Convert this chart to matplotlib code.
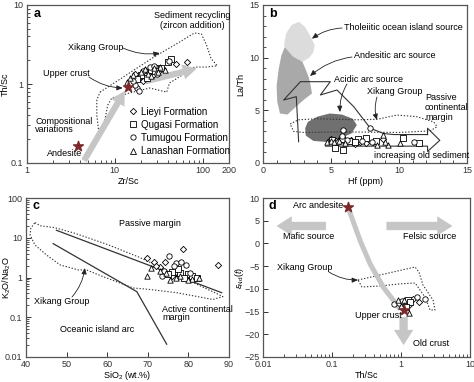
import matplotlib
matplotlib.use('Agg')
import matplotlib.pyplot as plt
from matplotlib.patches import FancyArrowPatch
from matplotlib.ticker import MultipleLocator, NullFormatter

plt.rcParams['font.family'] = ['Liberation Sans', 'DejaVu Sans']
plt.rcParams['mathtext.fontset'] = 'custom'
plt.rcParams['mathtext.rm'] = 'Liberation Sans'
plt.rcParams['mathtext.it'] = 'Liberation Sans:italic'

# ---------------- data ----------------
formations = ['Lieyi Formation', 'Qugasi Formation', 'Tumugou Formation', 'Lanashan Formation']
markers = ['D', 's', 'o', '^']
msizes = [10, 13, 15, 15]

# panel a: Zr/Sc vs Th/Sc
a_lieyi_x = [50, 67, 24, 30, 19, 22, 35, 27, 17, 21, 32]
a_lieyi_y = [1.79, 1.9, 1.4, 1.6, 1.2, 1.5, 1.55, 1.3, 1.35, 1.1, 1.45]
a_qugasi_x = [44, 40, 26, 20, 23, 29, 18, 34]
a_qugasi_y = [2.1, 1.9, 1.5, 1.3, 1.2, 1.45, 1.15, 1.6]
a_tumugou_x = [42, 18, 19, 17, 25, 30, 21, 28, 16]
a_tumugou_y = [1.95, 0.9, 0.82, 0.98, 1.65, 1.35, 1.45, 1.7, 1.1]
a_lanashan_x = [13.6, 15, 28, 37, 33, 24, 20, 26, 31, 22, 16]
a_lanashan_y = [1.06, 1.2, 1.6, 1.5, 1.65, 1.35, 1.4, 1.25, 1.4, 1.55, 1.3]
a_env_x = [6.8, 14, 28, 50, 81, 97, 111, 125, 147, 111, 81, 59, 42, 39, 25, 14.8, 9.25, 8.3, 7.7, 7.3, 6.6, 6.24, 6.24, 6.8]
a_env_y = [0.79, 1.33, 2.2, 3.2, 4.43, 4.3, 3.1, 2.1, 1.7, 1.64, 1.64, 1.3, 1.03, 0.79, 0.89, 0.77, 0.665, 0.54, 0.35, 0.24, 0.24, 0.4, 0.63, 0.79]
a_upper_crust = (14, 0.92)
a_andesite = (3.8, 0.164)
a_trend1 = [(4.3, 0.1), (13.5, 0.88)]
a_trend2 = [(20.8, 1.06), (92, 1.6)]

# panel b: Hf vs La/Th
b_lieyi_x = [5.0, 5.4, 6.0, 6.5, 7.1, 7.6, 8.1, 6.8, 5.7, 8.8]
b_lieyi_y = [2.3, 2.1, 2.0, 2.2, 2.0, 1.9, 2.0, 1.8, 2.4, 2.3]
b_qugasi_x = [5.3, 5.9, 7.6, 10.3, 11.5, 5.1, 6.3, 7.0, 8.3, 5.8, 6.8]
b_qugasi_y = [1.4, 1.2, 2.4, 2.35, 1.9, 2.2, 2.1, 2.3, 2.1, 2.3, 2.0]
b_tumugou_x = [5.9, 7.9, 11.1, 5.8, 6.2, 7.3, 8.0, 5.5]
b_tumugou_y = [3.1, 3.3, 2.0, 2.6, 2.2, 2.1, 2.0, 2.0]
b_lanashan_x = [4.7, 5.0, 5.2, 6.0, 8.4, 8.8, 9.2, 10.1, 9.0, 5.6]
b_lanashan_y = [2.0, 2.1, 2.0, 1.9, 1.7, 2.7, 1.7, 1.9, 2.0, 2.1]
b_thol_x = [2.65, 3.1, 3.5, 3.8, 3.7, 3.4, 2.9, 2.3, 1.8, 1.55, 1.7, 2.1]
b_thol_y = [13.4, 12.9, 12.0, 11.2, 10.5, 10.0, 9.6, 9.7, 10.3, 11.2, 12.3, 13.1]
b_andes_x = [1.6, 2.2, 2.9, 3.1, 3.35, 3.5, 3.6, 3.0, 2.3, 1.8, 1.25, 1.05, 1.0, 1.15, 1.35]
b_andes_y = [11.0, 10.1, 9.6, 9.0, 8.2, 7.4, 6.6, 6.0, 5.2, 4.6, 4.7, 5.8, 7.3, 8.9, 10.2]
b_acid_x = [3.3, 4.0, 4.9, 5.8, 6.6, 6.9, 6.5, 5.6, 4.6, 3.7, 3.15, 3.1]
b_acid_y = [3.9, 4.4, 4.7, 4.6, 4.2, 3.6, 2.8, 2.3, 2.0, 2.1, 2.6, 3.3]
b_env_x = [2.0, 2.6, 4.0, 6.9, 8.4, 9.85, 11.3, 12.55, 12.8, 12.3, 10.0, 6.0, 3.0, 2.25, 2.0]
b_env_y = [3.7, 4.1, 4.2, 4.1, 4.15, 4.55, 4.4, 3.9, 3.45, 3.05, 2.9, 2.95, 2.9, 3.0, 3.7]
b_trend_x = [2.62, 2.45, 1.52, 2.75, 4.95, 4.22, 5.44, 6.67, 7.89, 8.87, 9.6, 10.2, 12.1]
b_trend_y = [2.02, 6.3, 5.98, 7.72, 7.72, 6.46, 6.93, 5.35, 3.3, 2.8, 2.7, 2.7, 2.7]
b_arrow_x = [12.1, 12.1, 13.0, 12.1, 12.1, 4.6]
b_arrow_y = [2.7, 3.3, 2.15, 1.1, 1.6, 1.6]

# panel c: SiO2 vs K2O/Na2O
c_lieyi_x = [69.7, 78.6, 71.5, 74.3, 87.4, 73, 77, 80, 76, 81.5, 72]
c_lieyi_y = [3.1, 5.3, 2.4, 2.5, 2.1, 1.8, 1.4, 1.0, 1.1, 0.95, 2.0]
c_qugasi_x = [76, 78, 80, 81, 82, 79, 77.5, 75]
c_qugasi_y = [1.4, 1.3, 1.2, 1.1, 1.0, 0.95, 1.6, 1.2]
c_tumugou_x = [75.1, 77, 78.2, 79.4, 76.5, 74, 80.5, 73.5]
c_tumugou_y = [3.4, 2.3, 2.5, 2.1, 1.9, 1.5, 1.3, 1.1]
c_lanashan_x = [69.7, 70.8, 73, 75.5, 78, 81, 82.5, 80, 74.5, 77]
c_lanashan_y = [1.1, 1.7, 1.5, 0.85, 1.1, 0.9, 1.0, 0.85, 1.3, 0.95]
c_pm_x = [47.5, 88.2]
c_pm_y = [15.4, 0.415]
c_arc_x = [46.7, 67.3, 74.65]
c_arc_y = [7.1, 0.44, 0.021]
c_env_x = [42.2, 43.5, 47, 52, 60, 68, 75, 82, 86, 88.5, 86, 77.1, 70.5, 66.4, 59, 54.9, 52.9, 48.4, 45.1, 42.2, 41.0, 41.2, 42.2]
c_env_y = [24, 20, 18, 13, 6.8, 3.2, 1.45, 0.68, 0.44, 0.33, 0.28, 0.415, 0.5, 0.545, 1.05, 1.55, 1.55, 2.07, 3.65, 6.6, 11.7, 17.5, 24]

# panel d: Th/Sc vs eNd(t)
d_lieyi_x = [1.5, 1.3, 1.8]
d_lieyi_y = [-12.3, -13.5, -12.8]
d_qugasi_x = [1.25, 1.35, 1.2]
d_qugasi_y = [-12.4, -13.0, -14.0]
d_tumugou_x = [0.78, 2.2, 1.7, 0.95, 1.05]
d_tumugou_y = [-13.4, -12.2, -11.9, -13.2, -12.6]
d_lanashan_x = [0.9, 1.1, 1.3, 1.0]
d_lanashan_y = [-12.5, -12.4, -15.3, -13.8]
d_env_x = [0.238, 1.6, 1.82, 2.08, 2.91, 3.11, 2.63, 2.23, 1.6, 0.968, 0.496, 0.272, 0.238]
d_env_y = [-8.05, -5.19, -6.29, -9.15, -12.45, -14.65, -14.65, -11.8, -8.71, -8.9, -9.37, -9.59, -8.05]
d_mix_x = [0.175, 0.206, 0.257, 0.359, 0.561, 0.977]
d_mix_y = [7.5, 4.56, 0.53, -4.6, -9.74, -14.5]
d_arc_andesite = (0.169, 8.0)
d_upper_crust = (1.09, -14.7)
d_mafic = [(0.0896, 3.84), (0.0143, 3.84)]
d_felsic = [(0.561, 3.84), (6.12, 3.84)]
d_old = [(1.09, -15.6), (1.09, -23.0)]

# ---------------- layout (pixel boxes: left, top, right, bottom) ----------------
W, H = 474, 382
boxes = {'a': (27, 5, 229, 163), 'b': (263, 5, 467, 163),
         'c': (26, 198, 229, 357), 'd': (263, 198, 470, 357)}

fig = plt.figure(figsize=(W / 100, H / 100), dpi=100)
axes = {}
for k, (l, t, r, b) in boxes.items():
    axes[k] = fig.add_axes([l / W, 1 - b / H, (r - l) / W, (b - t) / H])


def frac(k, px, py):
    l, t, r, b = boxes[k]
    return ((px - l) / (r - l), (b - py) / (b - t))


def label(k, px, py, s, ha='center', **kw):
    axes[k].text(*frac(k, px, py), s, transform=axes[k].transAxes, ha=ha, va='center',
                 fontsize=kw.pop('fontsize', 6.5), **kw)


def leader(k, start_px, tip):
    axes[k].annotate('', xy=tip, xycoords='data', xytext=frac(k, *start_px),
                     textcoords='axes fraction',
                     arrowprops=dict(arrowstyle='-|>,head_length=0.35,head_width=0.15',
                                     lw=0.6, color='#222222', shrinkA=0, shrinkB=0,
                                     connectionstyle='arc3,rad=0.15'))


def axis_labels(k, xl, yl, xpy, ypx):
    ax = axes[k]
    ax.set_xlabel(xl, fontsize=6.5)
    ax.set_ylabel(yl, fontsize=6.5)
    ax.xaxis.set_label_coords(0.5, frac(k, 0, xpy)[1])
    ax.yaxis.set_label_coords(frac(k, ypx, 0)[0], 0.5)
    ax.xaxis.label.set_va('center')
    ax.yaxis.label.set_va('center')


def style(ax):
    for s in ax.spines.values():
        s.set_color('#555555')
        s.set_linewidth(0.9)
    ax.tick_params(which='both', direction='in', labelsize=6.5, colors='#333333',
                   top=False, right=False, pad=2.5)
    ax.tick_params(which='major', length=3.5, width=0.7)
    ax.tick_params(which='minor', length=2, width=0.6)


def points(ax, groups):
    for (xs, ys), m, s in zip(groups, markers, msizes):
        ax.scatter(xs, ys, marker=m, s=s, facecolors='white', edgecolors='k',
                   linewidths=0.6, zorder=5)


def gray_arrow(ax, p0, p1, tail=0.45, head=1.1, hl=1.0):
    ax.add_patch(FancyArrowPatch(p0, p1, arrowstyle=f'simple,head_length={hl},head_width={head},tail_width={tail}',
                                 mutation_scale=10, fc='#c6c6c6', ec='none', zorder=3, clip_on=True))


star = dict(marker='*', s=55, color='#7a2a2a', zorder=6)
dotted = dict(ls=(0, (1.2, 1.6)), lw=0.8, color='#333333')

# ---------------- panel a ----------------
ax = axes['a']
ax.set_xscale('log')
ax.set_yscale('log')
ax.set_xlim(1, 200)
ax.set_ylim(0.1, 10)
ax.plot(a_env_x, a_env_y, **dotted)
gray_arrow(ax, *a_trend1)
gray_arrow(ax, *a_trend2)
points(ax, [(a_lieyi_x, a_lieyi_y), (a_qugasi_x, a_qugasi_y),
            (a_tumugou_x, a_tumugou_y), (a_lanashan_x, a_lanashan_y)])
ax.scatter(*a_upper_crust, **star)
ax.scatter(*a_andesite, **star)
ax.set_xticks([1, 10, 100, 200])
ax.set_xticklabels(['1', '10', '100', '200'])
ax.set_yticks([0.1, 1, 10])
ax.set_yticklabels(['0.1', '1', '10'])
ax.xaxis.set_minor_formatter(NullFormatter())
ax.yaxis.set_minor_formatter(NullFormatter())
style(ax)
axis_labels('a', 'Zr/Sc', 'Th/Sc', 182, 5)
label('a', 37, 14, 'a', fontsize=9, fontweight='bold')
label('a', 192, 16, 'Sediment recycling')
label('a', 192, 25, '(zircon addition)')
label('a', 96, 47, 'Xikang Group')
leader('a', (123, 48), (32.5, 2.46))
label('a', 66, 73, 'Upper crust')
leader('a', (89, 77), (12.3, 0.89))
label('a', 35, 121, 'Compositional', ha='left')
label('a', 35, 130, 'variations', ha='left')
label('a', 65, 154, 'Andesite')
handles = [plt.Line2D([], [], ls='none', marker=m, mfc='white', mec='k', mew=0.6,
                      ms=3.2 if m == 'D' else 3.8) for m in markers]
ax.legend(handles, formations, loc='lower left', bbox_to_anchor=frac('a', 129, 156),
          frameon=False, fontsize=7, handlelength=0.8, handletextpad=0.4,
          labelspacing=0.32, borderpad=0, borderaxespad=0)

# ---------------- panel b ----------------
ax = axes['b']
ax.set_xlim(0, 15)
ax.set_ylim(0, 15)
ax.fill(b_thol_x, b_thol_y, color='#dcdcdc', lw=0, zorder=1)
ax.fill(b_andes_x, b_andes_y, color='#a9a9a9', lw=0, zorder=1)
ax.fill(b_acid_x, b_acid_y, color='#707070', lw=0, zorder=1)
ax.plot(b_env_x, b_env_y, **dotted, zorder=2)
ax.plot(b_trend_x, b_trend_y, color='#333333', lw=0.8, zorder=3)
ax.plot(b_arrow_x, b_arrow_y, color='#333333', lw=0.8, zorder=3)
points(ax, [(b_lieyi_x, b_lieyi_y), (b_qugasi_x, b_qugasi_y),
            (b_tumugou_x, b_tumugou_y), (b_lanashan_x, b_lanashan_y)])
ax.set_xticks([0, 5, 10, 15])
ax.set_yticks([0, 5, 10, 15])
ax.xaxis.set_minor_locator(MultipleLocator(1))
ax.yaxis.set_minor_locator(MultipleLocator(1))
style(ax)
axis_labels('b', 'Hf (ppm)', 'La/Th', 182, 241)
label('b', 273, 14, 'b', fontsize=9, fontweight='bold')
label('b', 344, 27, 'Tholeiitic ocean island source', ha='left')
leader('b', (342, 28), (3.6, 11.8))
label('b', 354, 55, 'Andesitic arc source', ha='left')
leader('b', (352, 57), (3.46, 8.26))
label('b', 334, 79, 'Acidic arc source', ha='left')
leader('b', (347, 84), (5.66, 4.84))
label('b', 367, 92, 'Xikang Group', ha='left')
leader('b', (377, 97), (8.38, 4.08))
label('b', 425, 98, 'Passive', ha='left')
label('b', 425, 108, 'continental', ha='left')
label('b', 425, 117, 'margin', ha='left')
label('b', 374, 156, 'increasing old sediment', ha='left')

# ---------------- panel c ----------------
ax = axes['c']
ax.set_yscale('log')
ax.set_xlim(40, 90)
ax.set_ylim(0.01, 100)
ax.plot(c_env_x, c_env_y, **dotted)
ax.plot(c_pm_x, c_pm_y, color='#333333', lw=0.9)
ax.plot(c_arc_x, c_arc_y, color='#333333', lw=0.9)
points(ax, [(c_lieyi_x, c_lieyi_y), (c_qugasi_x, c_qugasi_y),
            (c_tumugou_x, c_tumugou_y), (c_lanashan_x, c_lanashan_y)])
ax.set_xticks([40, 50, 60, 70, 80, 90])
ax.set_yticks([0.01, 0.1, 1, 10, 100])
ax.set_yticklabels(['0.01', '0.1', '1', '10', '100'])
ax.yaxis.set_minor_formatter(NullFormatter())
style(ax)
axis_labels('c', 'SiO$_2$ (wt.%)', 'K$_2$O/Na$_2$O', 375, 6.5)
label('c', 36, 206, 'c', fontsize=9, fontweight='bold')
label('c', 150, 223, 'Passive margin')
label('c', 62, 302, 'Xikang Group')
leader('c', (72, 297), (54.5, 1.73))
label('c', 97, 329, 'Oceanic island arc')
label('c', 162, 309, 'Active continental', ha='left')
label('c', 162, 318, 'margin', ha='left')

# ---------------- panel d ----------------
ax = axes['d']
ax.set_xscale('log')
ax.set_xlim(0.01, 10)
ax.set_ylim(-25, 10)
ax.plot(d_env_x, d_env_y, **dotted)
ax.plot(d_mix_x, d_mix_y, color='#c6c6c6', lw=3.6, solid_capstyle='butt', zorder=2)
gray_arrow(ax, *d_mafic, tail=0.6, head=1.4, hl=1.1)
gray_arrow(ax, *d_felsic, tail=0.6, head=1.4, hl=1.1)
gray_arrow(ax, *d_old, tail=0.6, head=1.4, hl=1.1)
points(ax, [(d_lieyi_x, d_lieyi_y), (d_qugasi_x, d_qugasi_y),
            (d_tumugou_x, d_tumugou_y), (d_lanashan_x, d_lanashan_y)])
ax.scatter(*d_arc_andesite, **star)
ax.scatter(*d_upper_crust, **star)
ax.set_xticks([0.01, 0.1, 1, 10])
ax.set_xticklabels(['0.01', '0.1', '1', '10'])
ax.xaxis.set_minor_formatter(NullFormatter())
ax.set_yticks(range(-25, 11, 5))
style(ax)
axis_labels('d', 'Th/Sc', r'$\varepsilon_{\mathrm{Nd}}(t)$', 376, 240)
label('d', 272, 206, 'd', fontsize=9, fontweight='bold')
label('d', 343, 206, 'Arc andesite', ha='right')
label('d', 309, 237, 'Mafic source')
label('d', 430, 237, 'Felsic source')
label('d', 305, 267, 'Xikang Group')
leader('d', (329, 272), (0.238, -8.05))
label('d', 378, 316, 'Upper crust')
label('d', 431, 344, 'Old crust')

fig.savefig('out.png', dpi=100)
